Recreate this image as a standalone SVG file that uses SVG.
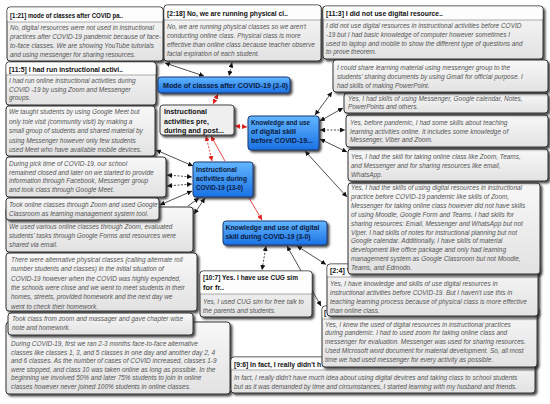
<svg xmlns="http://www.w3.org/2000/svg" width="550" height="404" viewBox="0 0 550 404">
<defs>
<linearGradient id="qg" x1="0" y1="0" x2="0" y2="1"><stop offset="0" stop-color="#f8f8f8"/><stop offset="1" stop-color="#e2e2e2"/></linearGradient>
<linearGradient id="bg" x1="0" y1="0" x2="0" y2="1"><stop offset="0" stop-color="#63b6ff"/><stop offset="1" stop-color="#1a72e4"/></linearGradient>
<filter id="sh" x="-10%" y="-10%" width="130%" height="150%"><feDropShadow dx="2" dy="2" stdDeviation="0.9" flood-color="#222" flood-opacity="0.8"/></filter>
<marker id="ab" viewBox="0 0 6 6" refX="6" refY="3" markerWidth="5" markerHeight="5" orient="auto-start-reverse" markerUnits="userSpaceOnUse"><path d="M0,0 L6,3 L0,6 z" fill="#111"/></marker>
<marker id="ar" viewBox="0 0 6 6" refX="6" refY="3" markerWidth="5" markerHeight="5" orient="auto-start-reverse" markerUnits="userSpaceOnUse"><path d="M0,0 L6,3 L0,6 z" fill="#e31b1b"/></marker>
</defs>
<style>
.q{fill:url(#qg);stroke:#333;stroke-width:1}
.hb{fill:#fdfdfd;stroke:none}
.sep{stroke:#777;stroke-width:0.6}
.ht{font-family:"Liberation Sans",Arial,sans-serif;font-weight:bold;font-size:7px;fill:#111}
.bt{font-family:"Liberation Sans",Arial,sans-serif;font-style:italic;font-size:6.45px;fill:#555}
.cb{fill:url(#bg);stroke:#1d3b73;stroke-width:1}
.cg{fill:#efefef;stroke:#444;stroke-width:1}
.ct{font-family:"Liberation Sans",Arial,sans-serif;font-weight:bold;font-size:7.2px;fill:#0c1a3c}
.lk{stroke:#222;stroke-width:0.8;fill:none}
.dl{stroke-dasharray:2 1.5}
.rl{stroke:#e31b1b;stroke-width:0.8;fill:none}
</style>

<g id="connectors">
<path class="lk" d="M165,63 L204,76" marker-start="url(#ab)" marker-end="url(#ab)"/>
<path class="lk dl" d="M232,62.5 L229,76" marker-start="url(#ab)" marker-end="url(#ab)"/>
<path class="lk" d="M315,115 L332,92" marker-start="url(#ab)" marker-end="url(#ab)"/>
<path class="lk" d="M320,121 L343,108" marker-start="url(#ab)" marker-end="url(#ab)"/>
<path class="lk dl" d="M320,130 L345,130" marker-start="url(#ab)" marker-end="url(#ab)"/>
<path class="lk" d="M320,139 L347,152" marker-start="url(#ab)" marker-end="url(#ab)"/>
<path class="lk" d="M305,151 L347,197" marker-start="url(#ab)" marker-end="url(#ab)"/>
<path class="lk dl" d="M167,175 L192,177" marker-start="url(#ab)" marker-end="url(#ab)"/>
<path class="lk dl" d="M167,186 L192,184" marker-start="url(#ab)" marker-end="url(#ab)"/>
<path class="lk" d="M160,205 L192,191" marker-start="url(#ab)" marker-end="url(#ab)"/>
<path class="lk" d="M188,206 L199,198" marker-end="url(#ab)"/>
<path class="lk" d="M194,214 L205,198" marker-start="url(#ab)" marker-end="url(#ab)"/>
<path class="lk" d="M156,150 L193,166" marker-start="url(#ab)" marker-end="url(#ab)"/>
<path class="lk dl" d="M266,246 L262,270" marker-start="url(#ab)" marker-end="url(#ab)"/>
<path class="lk" d="M297,246 L326,264.5" marker-start="url(#ab)" marker-end="url(#ab)"/>
<path class="lk" d="M287,246 L321,306" marker-start="url(#ab)" marker-end="url(#ab)"/>
<path class="rl dl" d="M218,94 L213,104" marker-start="url(#ar)" marker-end="url(#ar)"/>
<path class="rl dl" d="M235,126 L247,127" marker-start="url(#ar)" marker-end="url(#ar)"/>
<path class="rl dl" d="M206,136 L212,161" marker-start="url(#ar)" marker-end="url(#ar)"/>
<path class="rl" d="M211,136 L225,161" marker-start="url(#ar)"/>
<path class="rl" d="M249,198 L262,220" marker-end="url(#ar)"/>
</g>

<g id="q1_21">
<rect class="q" x="7" y="7" width="156" height="54" rx="3" filter="url(#sh)"/>
<rect class="hb" x="7.5" y="7.5" width="155" height="14.5" rx="2.5"/>
<line class="sep" x1="7.5" y1="22" x2="162.5" y2="22"/>
<text class="ht" x="10" y="18" textLength="113" lengthAdjust="spacingAndGlyphs">[1:21] mode of classes after COVID pa..</text>
<text class="bt"><tspan x="10" y="30">No, digital resources were not used in instructional</tspan><tspan x="10" y="39">practices after COVID-19 pandemic because of face-</tspan><tspan x="10" y="48">to-face classes. We are showing YouTube tutorials</tspan><tspan x="10" y="56.5">and using messenger for sharing resources.</tspan></text>
</g>

<g id="q2_18">
<rect class="q" x="164" y="5" width="157" height="56" rx="3" filter="url(#sh)"/>
<rect class="hb" x="164.5" y="5.5" width="156" height="14.5" rx="2.5"/>
<line class="sep" x1="164.5" y1="20" x2="320.5" y2="20"/>
<text class="ht" x="167" y="16" textLength="121" lengthAdjust="spacingAndGlyphs">[2:18] No, we are running physical cl..</text>
<text class="bt"><tspan x="167" y="29">No, we are running physical classes so we aren't</tspan><tspan x="167" y="38">conducting online class. Physical class is more</tspan><tspan x="167" y="47">effective than online class because teacher observe</tspan><tspan x="167" y="55.5">facial expiration of each student.</tspan></text>
</g>

<g id="q11_3">
<rect class="q" x="323" y="6" width="220" height="53" rx="3" filter="url(#sh)"/>
<rect class="hb" x="323.5" y="6.5" width="219" height="13.5" rx="2.5"/>
<line class="sep" x1="323.5" y1="20" x2="542.5" y2="20"/>
<text class="ht" x="326" y="16" textLength="117" lengthAdjust="spacingAndGlyphs">[11:3] I did not use digital resource..</text>
<text class="bt"><tspan x="326" y="28">I did not use digital resources in instructional activities before COVID</tspan><tspan x="326" y="37">-19 but I had basic knowledge of computer however sometimes I</tspan><tspan x="326" y="45.5">used to laptop and mobile to show the different type of questions and</tspan><tspan x="326" y="54">to prove theorem.</tspan></text>
</g>

<g id="q11_5">
<rect class="q" x="6" y="62" width="150" height="43" rx="3" filter="url(#sh)"/>
<rect class="hb" x="6.5" y="62.5" width="149" height="12.5" rx="2.5"/>
<line class="sep" x1="6.5" y1="75" x2="155.5" y2="75"/>
<text class="ht" x="9" y="71.5" textLength="114" lengthAdjust="spacingAndGlyphs">[11:5] I had run instructional activi..</text>
<text class="bt"><tspan x="9" y="83">I had run online instructional activities during</tspan><tspan x="9" y="91.5">COVID -19 by using Zoom and Messenger</tspan><tspan x="9" y="100">groups.</tspan></text>
</g>

<g id="q_taught">
<rect class="q" x="6" y="106" width="149" height="50" rx="3" filter="url(#sh)"/>
<text class="bt"><tspan x="9" y="114">We taught students by using Google Meet but</tspan><tspan x="9" y="123.5">only tole visit (community visit) by making a</tspan><tspan x="9" y="133">small group of students and shared material by</tspan><tspan x="9" y="142.5">using Messenger however only few students</tspan><tspan x="9" y="152">used Meet who have available mobile devices.</tspan></text>
</g>

<g id="q_pick">
<rect class="q" x="6" y="157" width="160" height="40" rx="3" filter="url(#sh)"/>
<text class="bt"><tspan x="9" y="166">During pick time of COVID-19, our school</tspan><tspan x="9" y="174.7">remained closed and later on we started to provide</tspan><tspan x="9" y="183.4">information through Facebook, Messenger group</tspan><tspan x="9" y="192">and took class through Google Meet.</tspan></text>
</g>

<g id="q_various">
<rect class="q" x="6" y="207" width="187" height="45" rx="3" filter="url(#sh)"/>
<text class="bt"><tspan x="9" y="229">We used various online classes through Zoom, evaluated</tspan><tspan x="9" y="238">students' tasks through Google Forms and resources were</tspan><tspan x="9" y="247">shared via email.</tspan></text>
</g>

<g id="q_tookonline">
<rect class="q" x="6" y="198" width="153" height="22" rx="3" filter="url(#sh)"/>
<text class="bt"><tspan x="9" y="207">Took online classes through Zoom and used Google</tspan><tspan x="9" y="216">Classroom as learning management system tool.</tspan></text>
</g>

<g id="q_alternative">
<rect class="q" x="6" y="253" width="191" height="58" rx="3" filter="url(#sh)"/>
<text class="bt"><tspan x="11" y="262">There were alternative physical classes (calling alternate roll</tspan><tspan x="11" y="271.3">number students and classes) in the initial situation of</tspan><tspan x="11" y="280.6">COVID-19 however when the COVID was highly expended,</tspan><tspan x="11" y="289.9">the schools were close and we went to meet students in their</tspan><tspan x="11" y="299.2">homes, streets, provided homework and the next day we</tspan><tspan x="11" y="308.5">went to check their homework.</tspan></text>
</g>

<g id="q_during">
<rect class="q" x="6" y="322" width="224" height="72" rx="3" filter="url(#sh)"/>
<text class="bt"><tspan x="11" y="346">During COVID-19, first we ran 2-3 months face-to-face alternative</tspan><tspan x="11" y="354.6">classes like classes 1, 3, and 5 classes in one day and another day 2, 4</tspan><tspan x="11" y="363.2">and 6 classes. As the number of cases of COVID increased, classes 1-9</tspan><tspan x="11" y="371.8">were stopped, and class 10 was taken online as long as possible. In the</tspan><tspan x="11" y="380.4">beginning we involved 50% and later 75% students to join in online</tspan><tspan x="11" y="389">classes however never joined 100% students in online classes.</tspan></text>
</g>

<g id="q_tookclass">
<rect class="q" x="8" y="313" width="185" height="22" rx="3" filter="url(#sh)"/>
<text class="bt"><tspan x="12" y="320.5">Took class from zoom and massager and gave chapter wise</tspan><tspan x="12" y="329.5">note and homework.</tspan></text>
</g>

<g id="q10_7">
<rect class="q" x="200" y="271" width="112" height="46" rx="3" filter="url(#sh)"/>
<rect class="hb" x="200.5" y="271.5" width="111" height="22.5" rx="2.5"/>
<line class="sep" x1="200.5" y1="294" x2="311.5" y2="294"/>
<text class="ht" x="203" y="280" textLength="95" lengthAdjust="spacingAndGlyphs">[10:7] Yes. I have use CUG sim</text>
<text class="ht" x="203" y="290" textLength="21" lengthAdjust="spacingAndGlyphs">for fr..</text>
<text class="bt"><tspan x="203" y="304">Yes, I used CUG sim for free talk to</tspan><tspan x="203" y="312.5">the parents and students.</tspan></text>
</g>

<g id="q9_6">
<rect class="q" x="231" y="357" width="304" height="36" rx="3" filter="url(#sh)"/>
<rect class="hb" x="231.5" y="357.5" width="303" height="12.5" rx="2.5"/>
<line class="sep" x1="231.5" y1="370" x2="534.5" y2="370"/>
<text class="ht" x="234" y="366.5" textLength="87" lengthAdjust="spacingAndGlyphs">[9:6] In fact, I really didn't h</text>
<text class="bt"><tspan x="234" y="380">In fact, I really didn't have much idea about using digital devices and taking class to school students</tspan><tspan x="234" y="389">but as it was demanded by time and circumstances, I started learning with my husband and friends.</tspan></text>
</g>

<g id="q_knew">
<rect class="q" x="322" y="306" width="215" height="61" rx="3" filter="url(#sh)"/>
<rect class="hb" x="322.5" y="306.5" width="214" height="12.5" rx="2.5"/>
<line class="sep" x1="322.5" y1="319" x2="536.5" y2="319"/>
<text class="ht" x="324" y="315">[</text>
<text class="bt"><tspan x="325" y="326.5">Yes, I knew the used of digital resources in instructional practices</tspan><tspan x="325" y="335.2">during pandemic. I had to used zoom for taking online class and</tspan><tspan x="325" y="344">messenger for evaluation. Messenger was used for sharing resources.</tspan><tspan x="325" y="352.8">Used Microsoft word document for material development. So, all most</tspan><tspan x="325" y="361.5">time we had used messenger for every activity as possible.</tspan></text>
</g>

<g id="q2_4">
<rect class="q" x="327" y="264" width="211" height="52" rx="3" filter="url(#sh)"/>
<rect class="hb" x="327.5" y="264.5" width="210" height="12.5" rx="2.5"/>
<line class="sep" x1="327.5" y1="277" x2="537.5" y2="277"/>
<text class="ht" x="330" y="273">[2:4] Y</text>
<text class="bt"><tspan x="330" y="286">Yes, I have knowledge and skills of use digital resources in</tspan><tspan x="330" y="295">instructional activities before COVID-19. But I haven't use this in</tspan><tspan x="330" y="304">teaching learning process because of physical class is more effective</tspan><tspan x="330" y="313">than online class.</tspan></text>
</g>

<g id="q_skills">
<rect class="q" x="348" y="183" width="192" height="91" rx="3" filter="url(#sh)"/>
<text class="bt"><tspan x="351" y="190">Yes, I had the skills of using digital resources in instructional</tspan><tspan x="351" y="198.9">practice before COVID-19 pandemic like skills of Zoom,</tspan><tspan x="351" y="207.8">Messenger for taking online class however did not have skills</tspan><tspan x="351" y="216.7">of using Moodle, Google Form and Teams. I had skills for</tspan><tspan x="351" y="225.6">sharing resources: Email, Messenger and WhatsApp but not</tspan><tspan x="351" y="234.5">Viper. I had skills of notes for instructional planning but not</tspan><tspan x="351" y="243.4">Google calendar. Additionally, I have skills of material</tspan><tspan x="351" y="252.3">development like office package and only had learning</tspan><tspan x="351" y="261.2">management system as Google Classroom but not Moodle,</tspan><tspan x="351" y="270">Teams, and Edmodo.</tspan></text>
</g>

<g id="q_skill_online">
<rect class="q" x="348" y="149" width="200" height="32" rx="3" filter="url(#sh)"/>
<text class="bt"><tspan x="351" y="159">Yes, I had the skill for taking online class like Zoom, Teams,</tspan><tspan x="351" y="168">and Messenger and for sharing resources like email,</tspan><tspan x="351" y="176.5">WhatsApp.</tspan></text>
</g>

<g id="q_before_pandemic">
<rect class="q" x="346" y="115" width="202" height="32" rx="3" filter="url(#sh)"/>
<text class="bt"><tspan x="350" y="125">Yes, before pandemic, I had some skills about teaching</tspan><tspan x="350" y="133.5">learning activities online. It includes some knowledge of</tspan><tspan x="350" y="142">Messenger, Viber and Zoom.</tspan></text>
</g>

<g id="q_messenger">
<rect class="q" x="344" y="93" width="204" height="20" rx="3" filter="url(#sh)"/>
<text class="bt"><tspan x="348" y="100.5">Yes, I had skills of using Messenger, Google calendar, Notes,</tspan><tspan x="348" y="109">PowerPoints and others.</tspan></text>
</g>

<g id="q_share">
<rect class="q" x="333" y="60" width="215" height="32" rx="3" filter="url(#sh)"/>
<text class="bt"><tspan x="337" y="70">I could share learning material using messenger group to the</tspan><tspan x="337" y="79">students' sharing documents by using Gmail for official purpose. I</tspan><tspan x="337" y="88">had skills of making PowerPoint.</tspan></text>
</g>

<g id="code_mode">
<rect class="cb" x="158" y="77" width="132" height="16" rx="3" filter="url(#sh)"/>
<text class="ct" x="163" y="88" textLength="125" lengthAdjust="spacingAndGlyphs">Mode of classes after COVID-19 (2-0)</text>
</g>

<g id="code_instr_pre">
<rect class="cg" x="160" y="105" width="74" height="30" rx="3" filter="url(#sh)"/>
<text class="ct" style="fill:#111" x="164" y="113.5" textLength="43" lengthAdjust="spacingAndGlyphs">Instructional</text>
<text class="ct" style="fill:#111" x="164" y="123.5" textLength="45" lengthAdjust="spacingAndGlyphs">activities pre,</text>
<text class="ct" style="fill:#111" x="164" y="132.5" textLength="60" lengthAdjust="spacingAndGlyphs">during and post...</text>
</g>

<g id="code_know_before">
<rect class="cb" x="248" y="116" width="71" height="34" rx="3" filter="url(#sh)"/>
<text class="ct" x="251" y="124.5" textLength="59" lengthAdjust="spacingAndGlyphs">Knowledge and use</text>
<text class="ct" x="251" y="133.5" textLength="45" lengthAdjust="spacingAndGlyphs">of digital skill</text>
<text class="ct" x="251" y="142.5" textLength="62" lengthAdjust="spacingAndGlyphs">before  COVID-19...</text>
</g>

<g id="code_instr_during">
<rect class="cb" x="193" y="162" width="60" height="35" rx="3" filter="url(#sh)"/>
<text class="ct" x="196" y="172" textLength="41" lengthAdjust="spacingAndGlyphs">Instructional</text>
<text class="ct" x="196" y="181" textLength="51" lengthAdjust="spacingAndGlyphs">activities during</text>
<text class="ct" x="196" y="190" textLength="47" lengthAdjust="spacingAndGlyphs">COVID-19 (13-0)</text>
</g>

<g id="code_know_during">
<rect class="cb" x="223" y="221" width="104" height="24" rx="3" filter="url(#sh)"/>
<text class="ct" x="225.5" y="229.5" textLength="94" lengthAdjust="spacingAndGlyphs">Knowledge and use of digital</text>
<text class="ct" x="225.5" y="238.5" textLength="85" lengthAdjust="spacingAndGlyphs">skill during COVID-19 (3-0)</text>
</g>
</svg>
